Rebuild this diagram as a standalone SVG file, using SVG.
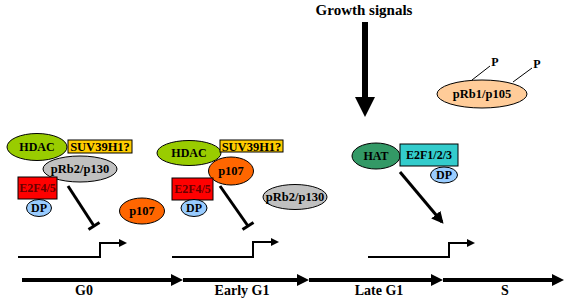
<svg xmlns="http://www.w3.org/2000/svg" width="565" height="301" viewBox="0 0 565 301">
<defs>
<marker id="ah2" viewBox="0 0 10 10" refX="8" refY="5" markerWidth="4" markerHeight="4" orient="auto"><path d="M0,0 L10,5 L0,10 z" fill="#000"/></marker>
</defs>
<style>
text{font-family:"Liberation Serif","Times New Roman",serif;font-weight:bold;text-anchor:middle;fill:#000}
.s{stroke:#000;stroke-width:1}
.t{font-size:12px}
.m{font-size:12.5px}
.l{font-size:14px}
.d{fill:#660000}
.prom{fill:none;stroke:#000;stroke-width:2}
.inh{stroke:#000;stroke-width:3;fill:none}
.tl{stroke:#000;stroke-width:4}
</style>
<rect width="565" height="301" fill="#fff"/>
<g id="growth-signals">
<text x="364" y="15" style="font-size:15px">Growth signals</text>
</g>
<g id="G0-complex">
<g id="hdac1"><ellipse cx="37" cy="147" rx="30" ry="13.5" fill="#99cc00" class="s"/><text class="t" x="37" y="151">HDAC</text></g>
<g id="suv1"><rect x="68" y="140" width="64" height="13" fill="#ffcc00" class="s"/><text class="m" x="100" y="151">SUV39H1?</text></g>
<g id="prb2a"><ellipse cx="80" cy="169" rx="37" ry="13" fill="#c0c0c0" class="s"/><text class="m" x="80" y="173">pRb2/p130</text></g>
<g id="e2f45a"><rect x="18" y="177" width="39" height="22" fill="#ff0000" class="s"/><text class="t d" x="37.5" y="192">E2F4/5</text></g>
<g id="dp1"><ellipse cx="39" cy="208" rx="12.5" ry="8.5" fill="#99ccff" class="s"/><text class="t" x="39" y="212">DP</text></g>
<g id="p107a"><ellipse cx="142" cy="211" rx="22.5" ry="13" fill="#ff6600" class="s"/><text class="m" x="142" y="215">p107</text></g>
</g>
<g id="earlyG1-complex">
<g id="hdac2"><ellipse cx="189" cy="153" rx="32" ry="12.5" fill="#99cc00" class="s"/><text class="t" x="189" y="157">HDAC</text></g>
<g id="suv2"><rect x="220" y="140" width="63" height="12" fill="#ffcc00" class="s"/><text class="m" x="251.5" y="150.5">SUV39H1?</text></g>
<g id="p107b"><ellipse cx="231" cy="171" rx="22.5" ry="14" fill="#ff6600" class="s"/><text class="m" x="231" y="175">p107</text></g>
<g id="e2f45b"><rect x="172" y="178" width="41" height="22" fill="#ff0000" class="s"/><text class="t d" x="192.5" y="193">E2F4/5</text></g>
<g id="dp2"><ellipse cx="194" cy="208" rx="13" ry="8.5" fill="#99ccff" class="s"/><text class="t" x="194" y="212">DP</text></g>
<g id="prb2b"><ellipse cx="295" cy="197" rx="32" ry="12.5" fill="#c0c0c0" class="s"/><text class="m" x="295" y="201">pRb2/p130</text></g>
</g>
<g id="lateG1-complex">
<g id="hat"><ellipse cx="376" cy="156" rx="24" ry="13" fill="#339966" class="s"/><text class="t" x="376" y="160">HAT</text></g>
<g id="e2f123"><rect x="400" y="144" width="58" height="22" fill="#33cccc" class="s"/><text class="t" x="429" y="159">E2F1/2/3</text></g>
<g id="dp3"><ellipse cx="444" cy="175" rx="13.5" ry="8" fill="#99ccff" class="s"/><text class="t" x="444" y="179">DP</text></g>
</g>
<g id="prb1">
<ellipse cx="482" cy="94" rx="45" ry="14" fill="#ffcc99" class="s"/><text class="m" x="482" y="98">pRb1/p105</text>
<text class="t" x="495" y="66">P</text>
<text class="t" x="537" y="68">P</text>
</g>
<g id="connectors">
<line x1="472" y1="80" x2="490" y2="66" stroke="#000" stroke-width="1"/>
<line x1="513" y1="82" x2="532" y2="68" stroke="#000" stroke-width="1"/>
<rect x="362" y="22" width="6" height="76" fill="#000"/>
<path d="M355,97 L375,97 L365,117 z" fill="#000"/>
<line class="inh" x1="68" y1="186" x2="94" y2="226"/>
<line class="inh" x1="88.5" y1="229.5" x2="99.5" y2="222.5"/>
<line class="inh" x1="220" y1="186" x2="248" y2="226"/>
<line class="inh" x1="242.5" y1="229.5" x2="253.5" y2="222.5"/>
<line x1="400" y1="172" x2="442" y2="222" stroke="#000" stroke-width="3" marker-end="url(#ah2)"/>
<path class="prom" d="M18,257 H100 V243 H120"/><path d="M119,239 L127,243 L119,247 z"/>
<path class="prom" d="M172,257 H253 V242 H272"/><path d="M271,238 L279,242 L271,246 z"/>
<path class="prom" d="M368,257 H449 V243 H468"/><path d="M467,239 L475,243 L467,247 z"/>
<line class="tl" x1="22" y1="280" x2="172" y2="280"/><path d="M171,274 L183,280 L171,286 z"/>
<line class="tl" x1="183" y1="280" x2="298" y2="280"/><path d="M297,274 L309,280 L297,286 z"/>
<line class="tl" x1="309" y1="280" x2="432" y2="280"/><path d="M431,274 L443,280 L431,286 z"/>
<line class="tl" x1="443" y1="280" x2="553" y2="280"/><path d="M552,274 L564,280 L552,286 z"/>
</g>
<g id="phase-labels">
<text class="l" x="84" y="295">G0</text>
<text class="l" x="242" y="295">Early G1</text>
<text class="l" x="379" y="295">Late G1</text>
<text class="l" x="505" y="295">S</text>
</g>
</svg>
